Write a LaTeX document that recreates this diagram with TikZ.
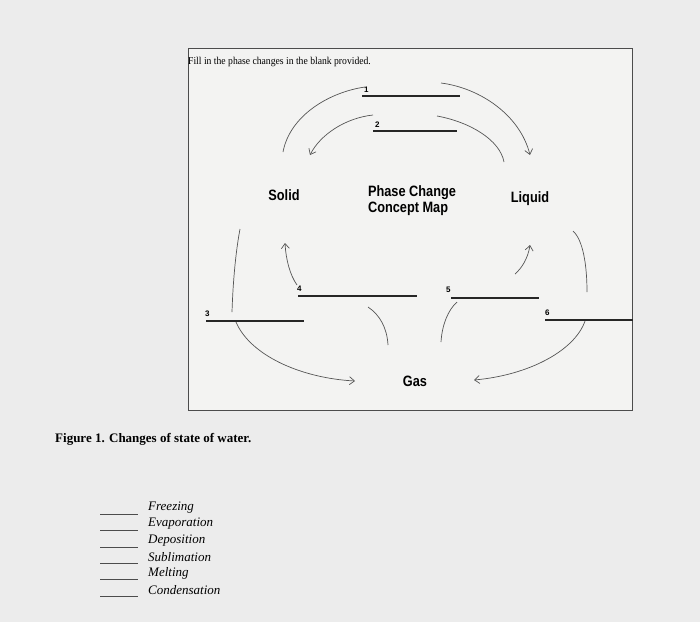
\documentclass[tikz,border=0pt]{standalone}
\usepackage{fontspec}
\setmainfont{Liberation Serif}
\newfontfamily\arialf{Liberation Sans}
\usetikzlibrary{arrows.meta}
\definecolor{bg}{HTML}{ECECEC}
\definecolor{boxbg}{HTML}{F3F3F2}
\definecolor{arr}{HTML}{555555}
\begin{document}
\begin{tikzpicture}[x=1pt,y=-1pt,
  blank/.style={line width=1.6pt,black!85},
  curve/.style={arr,line width=0.7pt},
  tip/.style={curve,-{Straight Barb[length=5pt,width=8pt]}},
  lbl/.style={font=\arialf\bfseries\fontsize{15}{16}\selectfont,inner sep=0pt,xscale=0.85,align=left},
  num/.style={font=\arialf\bfseries\fontsize{8}{9}\selectfont,inner sep=0pt},
  item/.style={font=\itshape\fontsize{13}{13}\selectfont,inner sep=0pt,anchor=west}]
\useasboundingbox (0,0) rectangle (700,622);
\fill[bg] (0,0) rectangle (700,622);
\draw[black!70,fill=boxbg,line width=0.6pt] (188,48) rectangle (632,410);
\node[anchor=west,inner sep=0pt,font=\fontsize{10.5}{11}\selectfont,xscale=0.92] (hdr) at (188,62) {Fill in the phase changes in the blank provided.};
% labels
\node[lbl] (solid) at (284,195) {Solid};
\node[lbl,align=left] (pc) at (412,201) {Phase Change\\Concept Map};
\node[lbl] (liquid) at (530,199) {Liquid};
\node[lbl] (gas) at (415,381) {Gas};
% blanks
\coordinate (b1a) at (362,96); \coordinate (b1b) at (460,96);
\coordinate (b2a) at (373,131); \coordinate (b2b) at (457,131);
\coordinate (b3a) at (206,321); \coordinate (b3b) at (304,321);
\coordinate (b4a) at (298,296); \coordinate (b4b) at (417,296);
\coordinate (b5a) at (451,298); \coordinate (b5b) at (539,298);
\coordinate (b6a) at (545,320); \coordinate (b6b) at (633,320);
\draw[blank] (b1a) -- (b1b); \draw[blank] (b2a) -- (b2b);
\draw[blank] (b3a) -- (b3b); \draw[blank] (b4a) -- (b4b);
\draw[blank] (b5a) -- (b5b); \draw[blank] (b6a) -- (b6b);
\node[num,anchor=south west] (n1) at (364,93) {1};
\node[num,anchor=south west] (n2) at (375,128) {2};
\node[num,anchor=south west] (n3) at (205,317) {3};
\node[num,anchor=south west] (n4) at (297,292) {4};
\node[num,anchor=south west] (n5) at (446,293) {5};
\node[num,anchor=south west] (n6) at (545,316) {6};
% arrows
\draw[curve] (283,152) .. controls (290,115) and (330,92) .. (365,87);
\draw[tip] (441,83) .. controls (480,88) and (520,115) .. (530,155);
\draw[curve] (504,162) .. controls (500,140) and (470,122) .. (437,116);
\draw[tip] (373,115) .. controls (345,118) and (320,135) .. (310,155);
\draw[curve] (240,229) .. controls (236,250) and (233,280) .. (232,312);
\draw[tip] (236,322) .. controls (250,355) and (300,378) .. (355,381);
\draw[tip] (297,285) .. controls (290,275) and (286,260) .. (285,243);
\draw[curve] (368,307) .. controls (380,315) and (387,328) .. (388,345);
\draw[curve] (441,342) .. controls (442,325) and (448,310) .. (457,302);
\draw[tip] (515,274) .. controls (522,268) and (528,258) .. (530,245);
\draw[curve] (573,231) .. controls (583,240) and (587,265) .. (587,292);
\draw[tip] (585,321) .. controls (575,350) and (530,375) .. (474,380);
% caption and list
\node[anchor=west,inner sep=0pt,font=\bfseries\fontsize{13}{13}\selectfont] (cap) at (55,439) {Figure 1. Changes of state of water.};
\foreach \y/\t [count=\i] in {508/Freezing,524/Evaporation,541/Deposition,557/Sublimation,573/Melting,590/Condensation}{
  \coordinate (la\i) at (100,\y+6); \coordinate (lb\i) at (138,\y+6);
  \draw[black!70,line width=0.6pt] (la\i) -- (lb\i);
  \node[item] (it\i) at (148,\y) {\t};
}
\end{tikzpicture}
\end{document}
